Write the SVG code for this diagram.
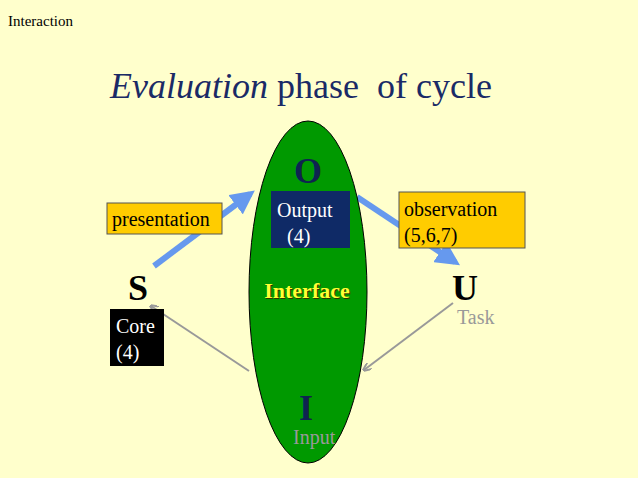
<svg xmlns="http://www.w3.org/2000/svg" width="638" height="478" viewBox="0 0 638 478">
<style>
text{font-family:"Liberation Serif",serif}
.big{font-size:36px;font-weight:bold;fill:#000}
.lbl{font-size:20px}
</style>
<defs>
<marker id="ab" markerWidth="4" markerHeight="4" refX="3" refY="2" orient="auto"><path d="M0,0L4,2L0,4z" fill="#6699ee"/></marker>
<marker id="ag" markerWidth="8" markerHeight="8" refX="7" refY="4" orient="auto" markerUnits="userSpaceOnUse"><path d="M0,0L9,4L0,8" fill="none" stroke="#999" stroke-width="2"/></marker>
</defs>
<rect width="638" height="478" fill="#ffffcc"/>
<text x="8" y="26" font-size="15">Interaction</text>
<text x="110" y="98" font-size="36" fill="#1a2a66" xml:space="preserve"><tspan font-style="italic">Evaluation</tspan> phase  of cycle</text>
<g id="connectors">
<line x1="154" y1="266" x2="250" y2="194" stroke="#6699ee" stroke-width="6" marker-end="url(#ab)"/>
<line x1="357" y1="197" x2="455" y2="262" stroke="#6699ee" stroke-width="6" marker-end="url(#ab)"/>
<line x1="249" y1="371" x2="151" y2="306" stroke="#999" stroke-width="2" marker-end="url(#ag)"/>
<line x1="453" y1="303" x2="364" y2="370" stroke="#999" stroke-width="2" marker-end="url(#ag)"/>
</g>
<g id="interface"><ellipse cx="308" cy="292" rx="59" ry="171" fill="#009900" stroke="#000" stroke-width="1"/>
<text x="308" y="299" text-anchor="middle" font-size="22" font-weight="bold" fill="#333300">Interface</text>
<text x="307" y="298" text-anchor="middle" font-size="22" font-weight="bold" fill="#ffff33">Interface</text></g>
<g id="O"><text x="308" y="183" text-anchor="middle" class="big" style="fill:#0f2350">O</text></g>
<g id="output"><rect x="271" y="191" width="79" height="57" fill="#0f2a66"/>
<text x="277" y="217" class="lbl" fill="#fff">Output</text><text x="287" y="243" class="lbl" fill="#fff">(4)</text></g>
<g id="presentation"><rect x="107" y="203" width="115" height="31" fill="#ffcc00" stroke="#555"/>
<text x="112" y="226" class="lbl">presentation</text></g>
<g id="observation"><rect x="399" y="192" width="126" height="56" fill="#ffcc00" stroke="#555"/>
<text x="404" y="216" class="lbl">observation</text><text x="404" y="242" class="lbl">(5,6,7)</text></g>
<g id="S"><text x="128" y="300" class="big">S</text></g>
<g id="core"><rect x="110" y="309" width="54" height="57" fill="#000"/>
<text x="116" y="333" class="lbl" fill="#fff">Core</text><text x="116" y="359" class="lbl" fill="#fff">(4)</text></g>
<g id="U"><text x="452" y="300" class="big">U</text><text x="457" y="324" class="lbl" fill="#999">Task</text></g>
<g id="I"><text x="306" y="420" text-anchor="middle" class="big" style="fill:#0f2350">I</text><text x="293" y="444" class="lbl" fill="#999">Input</text></g>
</svg>
